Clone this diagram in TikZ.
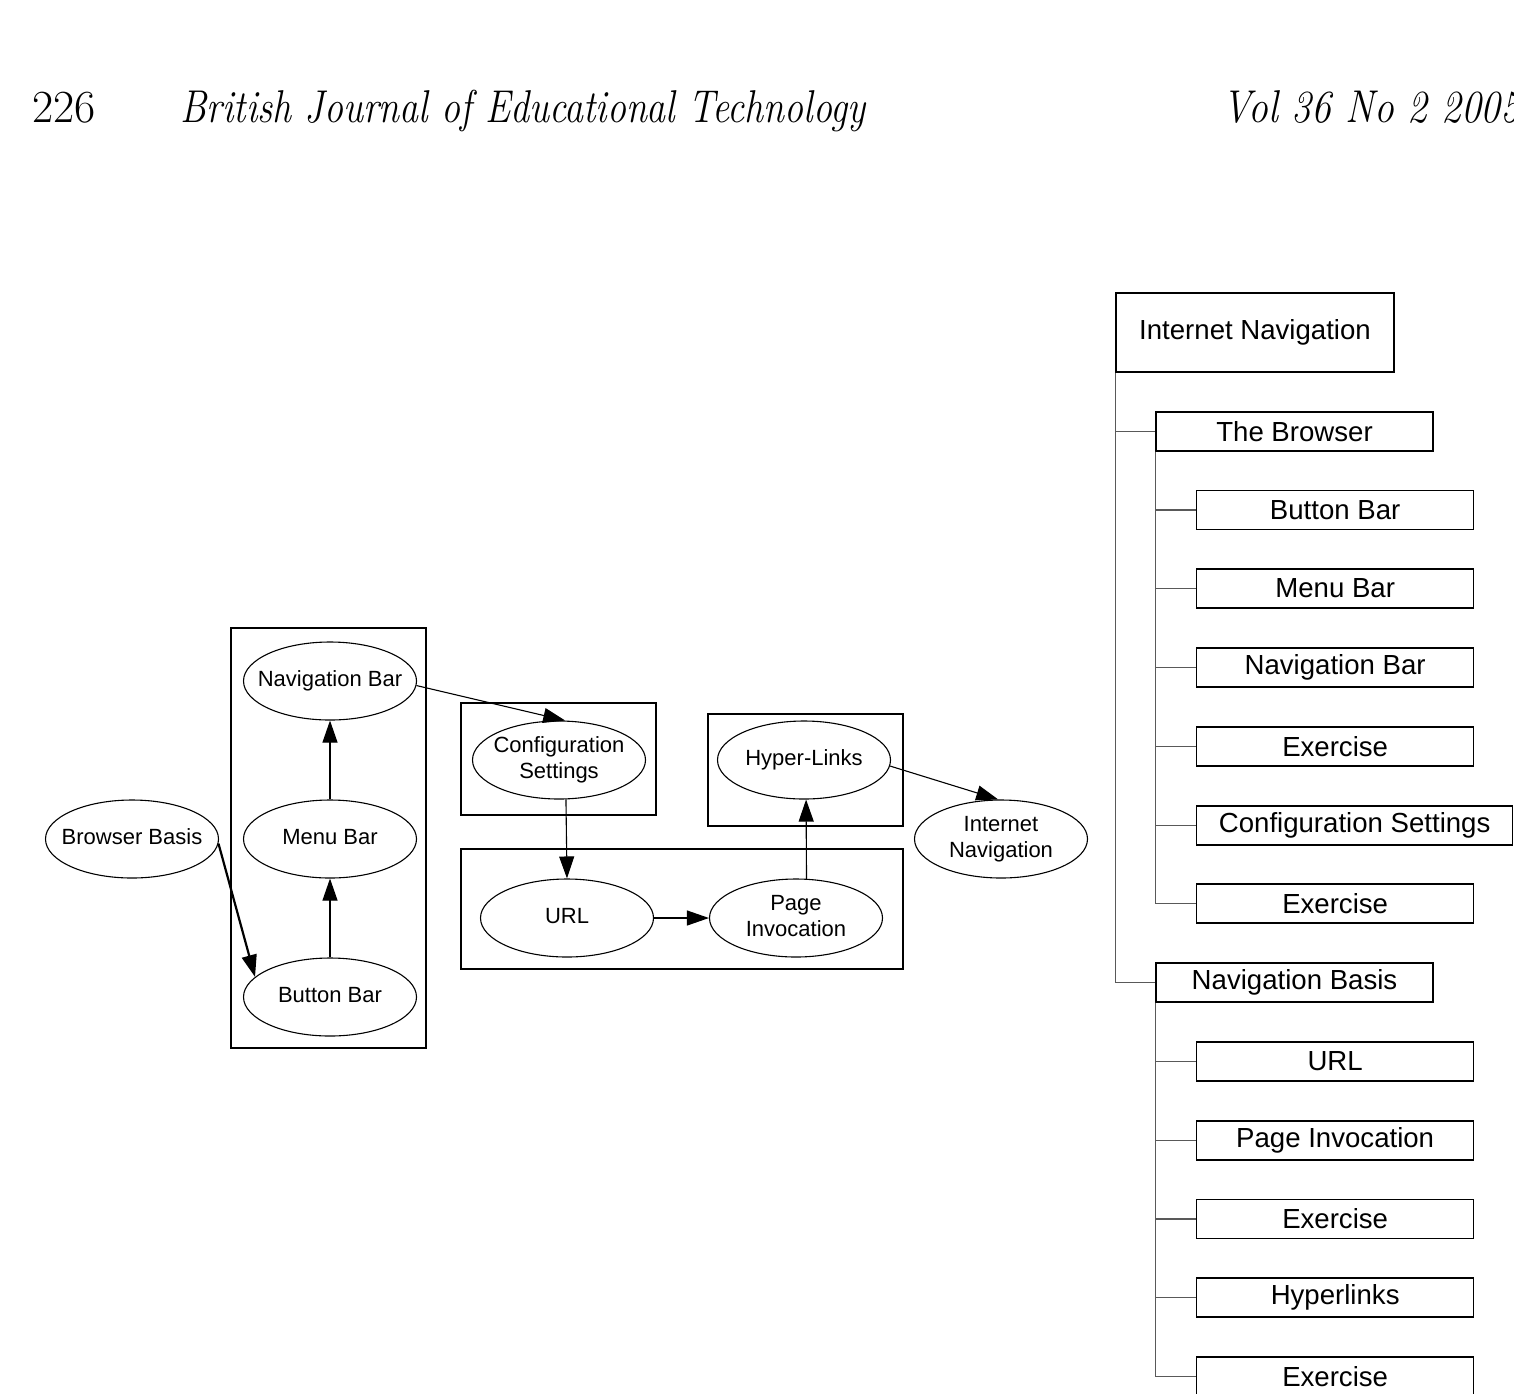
\documentclass[tikz,border=0pt]{standalone}
\usepackage{fontspec}
\newfontfamily\helv{Liberation Sans}
\usetikzlibrary{arrows.meta,shapes.geometric}

% ellipse text kept out of the node size
\newcommand{\etxt}[1]{\makebox[0pt]{\begin{tabular}{@{}c@{}}#1\end{tabular}}}

\tikzset{
  ell/.style={draw,ellipse,minimum width=86.5pt,minimum height=39pt,inner sep=0pt,
    font=\helv\fontsize{11}{13}\selectfont},
  leaf/.style={draw,rectangle,line width=0.65pt,minimum width=138.5pt,minimum height=19.5pt,
    inner sep=0pt,font=\helv\fontsize{13.8}{16}\selectfont},
  tri/.style={-{Triangle[length=11pt,width=7.5pt]}},
  grp/.style={line width=0.55pt},
  twig/.style={draw=black!65,line width=0.7pt}
}

\begin{document}
\begin{tikzpicture}[x=0.5pt,y=-0.5pt,line width=0.55pt]
  \useasboundingbox (0,0) rectangle (1514,1393);
  \clip (0,0) rectangle (1514,1393);
  % running head
  \node[anchor=base west,inner sep=0pt] (pg) at (32,122) {\fontsize{23}{26}\selectfont 226};
  \node[anchor=base west,inner sep=0pt] (jt) at (180,122)
    {\scalebox{0.825}[1]{\fontsize{23}{26}\selectfont\itshape British Journal of Educational Technology}};
  \node[anchor=base west,inner sep=0pt] (vol) at (1222,122)
    {\scalebox{0.86}[1]{\fontsize{23}{26}\selectfont\itshape Vol 36 No 2 2005}};

  % group boxes
  \draw[grp] (231,628) rectangle (426,1048);
  \draw[grp] (461,703) rectangle (656,815);
  \draw[grp] (461,849) rectangle (903,969);
  \draw[grp] (708,714) rectangle (903,826);

  % concept nodes
  \node[ell] (bb)   at (132,839) {\etxt{Browser Basis}};
  \node[ell] (nav)  at (330,681) {\etxt{Navigation Bar}};
  \node[ell] (menu) at (330,839) {\etxt{Menu Bar}};
  \node[ell] (btn)  at (330,997) {\etxt{Button Bar}};
  \node[ell] (cfg)  at (559,760) {\etxt{Configuration\\Settings}};
  \node[ell] (url)  at (567,918) {\etxt{URL}};
  \node[ell] (page) at (796,918) {\etxt{Page\\Invocation}};
  \node[ell] (hyp)  at (804,760) {\etxt{Hyper-Links}};
  \node[ell] (inav) at (1001,839) {\etxt{Internet\\Navigation}};

  \draw[tri,line width=1.1pt] (bb.-3) -- (btn.165);
  \draw[tri] (btn.north) -- (menu.south);
  \draw[tri] (menu.north) -- (nav.south);
  \draw[tri] (nav.-3) -- (cfg.81);
  \draw[tri] (cfg.-80) -- (url.north);
  \draw[tri] (url.east) -- (page.west);
  \draw[tri] (page.75.6) -- (hyp.-87);
  \draw[tri] (hyp.-4) -- (inav.94);

  % outline tree
  \node[draw,line width=0.65pt,minimum width=139pt,minimum height=39.5pt,inner sep=0pt,
    font=\helv\fontsize{13.8}{16}\selectfont] (root) at (1255,332.5) {Internet Navigation};
  \node[leaf] (brw) at (1294.5,431.5) {The Browser};
  \node[leaf] (nb)  at (1294.5,982.5) {Navigation Basis};
  \draw[twig] (root.south west) |- (brw.west);
  \draw[twig] (root.south west) |- (nb.west);

  \foreach \lbl/\y/\n in {Button Bar/510/b1, Menu Bar/588.5/b2, Navigation Bar/667.5/b3,
      Exercise/746.5/b4, Exercise/903.5/b6} {
    \node[leaf,anchor=west] (\n) at (1196,\y) {\lbl};
    \draw[twig] (brw.south west) |- (\n.west);
  }
  \node[leaf,anchor=west,minimum width=158pt] (b5) at (1196,825.5) {Configuration Settings};
  \draw[twig] (brw.south west) |- (b5.west);

  \foreach \lbl/\y/\n in {URL/1061.5/c1, Page Invocation/1140.5/c2, Exercise/1219/c3,
      Hyperlinks/1297.5/c4, Exercise/1376.5/c5} {
    \node[leaf,anchor=west] (\n) at (1196,\y) {\lbl};
    \draw[twig] (nb.south west) |- (\n.west);
  }
\end{tikzpicture}
\end{document}
